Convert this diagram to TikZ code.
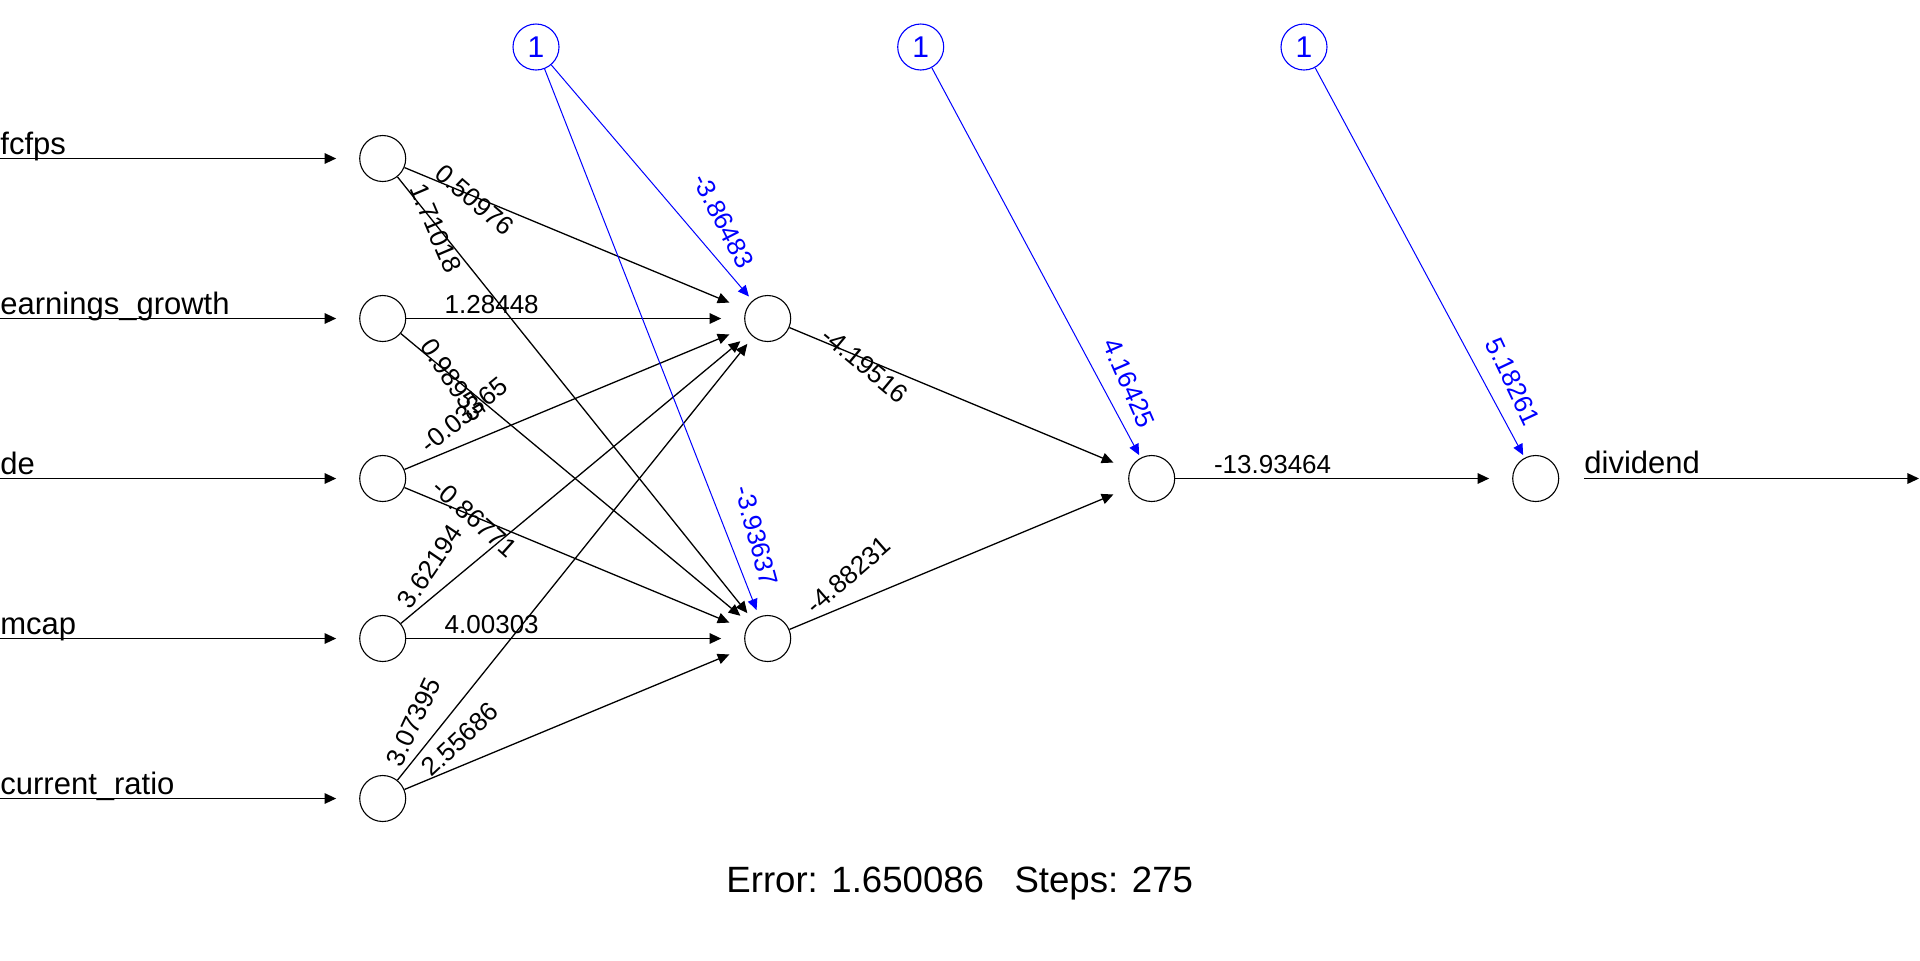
\documentclass[tikz,border=0pt]{standalone}
\usepackage{fontspec}
\setmainfont{Liberation Sans}
\usetikzlibrary{arrows.meta}
\begin{document}
\begin{tikzpicture}[x=0.5pt,y=-0.5pt,
  neuron/.style={circle,draw=black,line width=0.55pt,minimum size=23pt,inner sep=0pt},
  biasnode/.style={circle,draw=blue,text=blue,line width=0.55pt,minimum size=23pt,inner sep=0pt,font=\fontsize{15}{15}\selectfont},
  conn/.style={draw=black,line width=0.65pt,-{Triangle[length=5.8pt,width=5.3pt]}},
  bconn/.style={draw=blue,line width=0.5pt,-{Triangle[length=5.5pt,width=5pt]}},
  wlabel/.style={font=\fontsize{13}{13}\selectfont,inner sep=0pt},
  blabel/.style={wlabel,text=blue},
  vlabel/.style={font=\fontsize{15.5}{15.5}\selectfont,inner sep=0pt,anchor=base west},
]
\useasboundingbox (0,0) rectangle (1920,960);

% input neurons
\node[neuron] (I1) at (382.7,158.5) {};
\node[neuron] (I2) at (382.7,318.5) {};
\node[neuron] (I3) at (382.7,478.5) {};
\node[neuron] (I4) at (382.7,638.5) {};
\node[neuron] (I5) at (382.7,798.5) {};
% hidden
\node[neuron] (H1) at (767.7,318.5) {};
\node[neuron] (H2) at (767.7,638.5) {};
\node[neuron] (O1) at (1151.7,478.5) {};
\node[neuron] (OUT) at (1535.7,478.5) {};
% bias
\node[biasnode] (B1) at (536,47) {1};
\node[biasnode] (B2) at (920.7,47) {1};
\node[biasnode] (B3) at (1304,47) {1};

% input arrows
\coordinate (s1) at (0,158.5);
\coordinate (s2) at (0,318.5);
\coordinate (s3) at (0,478.5);
\coordinate (s4) at (0,638.5);
\coordinate (s5) at (0,798.5);
\coordinate (e0) at (1919,478.5);
\draw[conn,shorten >=11.5pt] (s1) -- (I1);
\draw[conn,shorten >=11.5pt] (s2) -- (I2);
\draw[conn,shorten >=11.5pt] (s3) -- (I3);
\draw[conn,shorten >=11.5pt] (s4) -- (I4);
\draw[conn,shorten >=11.5pt] (s5) -- (I5);
\draw[conn,shorten <=12.5pt] (OUT) -- (e0);

\node[vlabel] (l1) at (0,154) {fcfps};
\node[vlabel] (l2) at (0,314) {earnings\_growth};
\node[vlabel] (l3) at (0,474) {de};
\node[vlabel] (l4) at (0,634) {mcap};
\node[vlabel] (l5) at (0,794) {current\_ratio};
\node[vlabel] (l6) at (1584,473.5) {dividend};

% input -> hidden
\draw[conn,shorten >=9pt] (I1) -- (H1);
\draw[conn,shorten >=11.5pt] (I2) -- (H1);
\draw[conn,shorten >=9pt] (I3) -- (H1);
\draw[conn,shorten >=6pt] (I4) -- (H1);
\draw[conn,shorten >=4.5pt] (I5) -- (H1);
\draw[conn,shorten >=4.5pt] (I1) -- (H2);
\draw[conn,shorten >=6pt] (I2) -- (H2);
\draw[conn,shorten >=9pt] (I3) -- (H2);
\draw[conn,shorten >=11.5pt] (I4) -- (H2);
\draw[conn,shorten >=9pt] (I5) -- (H2);
\draw[conn,shorten >=9pt] (H1) -- (O1);
\draw[conn,shorten >=9pt] (H2) -- (O1);
\draw[conn,shorten >=11.5pt] (O1) -- (OUT);

% bias
\draw[bconn,shorten >=2.7pt] (B1) -- (H1);
\draw[bconn,shorten >=3.5pt] (B1) -- (H2);
\draw[bconn,shorten >=1.5pt] (B2) -- (O1);
\draw[bconn,shorten >=1.5pt] (B3) -- (OUT);

% weight labels
\node[wlabel,rotate=-40.6] (w1) at (475,200) {0.50976};
\node[wlabel,rotate=-67] (w2) at (435.7,228.3) {1.71018};
\node[wlabel,anchor=base] (w3) at (491.7,313) {1.28448};
\node[wlabel,rotate=-56] (w4) at (453.3,380) {0.98955};
\node[wlabel,rotate=39] (w5) at (464,415) {-0.03365};
\node[wlabel,rotate=-41.7] (w6) at (475,518.3) {-0.86771};
\node[wlabel,rotate=55.7] (w7) at (430,566.7) {3.62194};
\node[wlabel,anchor=base] (w8) at (491.7,633) {4.00303};
\node[wlabel,rotate=65] (w9) at (413.3,721.7) {3.07395};
\node[wlabel,rotate=43] (w10) at (460,739.3) {2.55686};
\node[blabel,rotate=-63] (wb1) at (723.3,220.7) {-3.86483};
\node[blabel,rotate=-75] (wb2) at (756.7,536) {-3.93637};
\node[wlabel,rotate=-39.8] (w11) at (865,365) {-4.19516};
\node[wlabel,rotate=41.2] (w12) at (848.3,575) {-4.88231};
\node[blabel,rotate=-66.5] (wb3) at (1129,383.3) {4.16425};
\node[wlabel,anchor=base] (w13) at (1272.6,473.3) {-13.93464};
\node[blabel,rotate=-64.7] (wb4) at (1513,381.7) {5.18261};

% title
\node[font=\fontsize{18.3}{18.3}\selectfont,inner sep=0pt] (title) at (959.7,883) {Error: 1.650086~~~Steps: 275};
\end{tikzpicture}
\end{document}
